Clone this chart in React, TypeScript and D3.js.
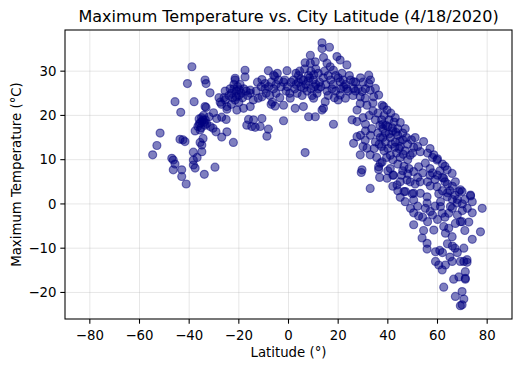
import React from "react";
import * as d3 from "d3";

const TITLE = "Maximum Temperature vs. City Latitude (4/18/2020)";
const X_LABEL = "Latitude (°)";
const Y_LABEL = "Maximum Temperature (°C)";
const X_TICKS = [-80, -60, -40, -20, 0, 20, 40, 60, 80];
const Y_TICKS = [-20, -10, 0, 10, 20, 30];
const X_DOMAIN = [-90, 90];
const Y_DOMAIN = [-26, 39.3];

// [latitude, max temperature]
const southMid: [number, number][] = [
  [-54.7, 11.1], [-53, 13.2], [-51.7, 16.0], [-46.4, 9.9], [-45.7, 9.0], [-46.4, 7.7],
  [-45.7, 23.1], [-43.4, 20.7], [-43.7, 14.6], [-41.7, 14.1], [-43, 7.7], [-43, 6.2],
  [-41.2, 4.5], [-40.7, 27.2], [-38.9, 31.0], [-38, 23.1], [-37.6, 16.5], [-38.3, 11.7],
  [-38.3, 9.9], [-38.3, 8.8], [-37.6, 8.1], [-35.6, 13.9], [-34.9, 11.8], [-33.9, 6.7],
  [-35.6, 16.7], [-33.6, 17.8], [-34.9, 18.6], [-33.6, 22], [-33.6, 28], [-33.2, 27.2],
  [-31.6, 25.1], [-33.2, 21.8], [-30.2, 20.6], [-34.4, 19], [-35.6, 18.3], [-34.4, 14.8],
  [-34.9, 13.3], [-29.6, 8.3], [-30.4, 17.1], [-29.2, 16.3], [-28.9, 19.3], [-26.9, 19.6],
  [-25.1, 19.1], [-24.8, 16.3], [-26.9, 15.1], [-22.2, 13.9], [-36, 18], [-35, 19.5],
  [-34, 18.5], [-36.5, 17.5], [-33.5, 19], [-35.2, 17.2], [-34.2, 20], [-36, 19.2],
  [-33, 18.2], [-32, 19.7], [-42.5, 14.5], [-47, 10.3], [-36.8, 10.5], [-31.5, 17.5],
];

const southTropics: [number, number][] = [
  [-25.5, 23.5], [-24.8, 22], [-24.8, 21.4], [-21.5, 28.4], [-21.5, 28], [-17.5, 30.2],
  [-17.5, 28.7], [-20.8, 21.2], [-18.1, 21.6], [-15.4, 22], [-14.2, 23.5], [-12.2, 23.9],
  [-10.7, 24.2], [-15.4, 25], [-15.4, 25.7], [-16.1, 19.1], [-14.1, 19], [-10.7, 19.3],
  [-16.8, 17.8], [-14.8, 17.5], [-13.4, 17.3], [-11.4, 17.5], [-8.1, 16.9], [-8.7, 15.3],
  [-2, 18.8], [-23, 25], [-22, 26], [-21, 25.5], [-20, 24.5], [-19, 25], [-22.5, 24],
  [-20.5, 26.5], [-18.5, 24], [-23.5, 26], [-21.5, 23.5], [-19.5, 27], [-17, 25.5],
  [-24, 24.5], [-22, 27], [-20, 23], [-18, 26], [-16.5, 24.5], [-25.5, 25.5], [-26, 24],
  [-27, 22.5], [-27.5, 23], [-28, 24], [-19.8, 25.8], [-21, 24.2], [-23, 22.5],
];

const equatorial: [number, number][] = [
  [-8.1, 30.1], [-6, 29.1], [-5.5, 28.8], [-0.6, 30.1], [-10.7, 28.1], [-9.4, 27.2],
  [-8, 26.5], [-7, 27.5], [-6, 26], [-5, 27], [-4, 28], [-3, 26.5], [-2, 27.5],
  [-1, 25.5], [-9, 25], [-7.5, 24.5], [-5, 25], [-3.5, 24], [-1.5, 28], [-0.5, 26.5],
  [-4.5, 29.5], [-6.5, 23], [-5.4, 22.1], [-2, 22.3], [-9.5, 26], [-11, 26.5],
  [-12.5, 27.5], [-13, 25.5], [0.7, 23.9], [-7, 22.5], [2, 28], [3, 27], [4, 29],
  [5, 26.5], [6, 28], [7, 27], [8, 29], [9, 26], [10, 28], [11, 27], [12, 29.5],
  [13, 26.5], [3.5, 25], [5.5, 24.5], [7.5, 25.5], [9.5, 24.5], [11.5, 25], [4.5, 30],
  [6.5, 30.5], [9, 30], [11, 30.5], [1, 27.5], [0.5, 25], [2.5, 26], [8, 27.8],
  [10.5, 26.5], [12.5, 27.5], [14, 28.5], [15, 27], [16, 29], [15.5, 25.5], [17, 28],
  [14.5, 30], [13.5, 36.4], [13.5, 35.1], [16.5, 35.4], [8.8, 33.6], [14.1, 33.1],
  [6.7, 31.9], [8.8, 31.8], [10.8, 32.1], [15.5, 31.8], [16.8, 31], [14.8, 23.1],
  [14.1, 21.6], [13.5, 21.2], [10.1, 23.9], [6, 22], [2.7, 21.6], [8.1, 19.7],
  [10.8, 19.7], [6.7, 11.6], [4, 27.5], [6.2, 26.2], [8.5, 28.5], [10.2, 29.2],
  [12, 26], [3, 29.5], [5, 28.2],
];

const northSubtropics: [number, number][] = [
  [19.5, 33.3], [20.8, 32.5], [23.5, 31.4], [18.1, 30.2], [32.3, 29.1], [32.3, 27.2],
  [32.9, 25.7], [35, 26.1], [26.2, 27.6], [26.2, 26.1], [29.6, 25.4], [28.9, 24.2],
  [30.9, 23.9], [20.8, 27.6], [22.2, 26.5], [20.8, 24.6], [22.9, 23.9], [18.1, 18],
  [25.6, 19], [27.6, 18.6], [27.6, 21.2], [28.9, 22.7], [31.6, 22.3], [34.3, 24.2],
  [36.3, 24.6], [37.7, 22.3], [18, 27], [19, 25.5], [20, 28.5], [21, 26], [22, 28],
  [23, 27], [24, 25.5], [25, 28], [19, 29], [21.5, 29.5], [23.5, 26], [24.5, 29],
  [18.5, 24], [17.5, 26], [20, 23.5], [16, 24.5], [26, 24.5], [27, 27.5], [28, 26],
  [30, 27.5], [31, 26], [29, 28.5], [33, 28], [27, 25.5], [27.6, 15.2], [26.2, 13.7],
  [28.9, 11.1], [32.9, 11.1], [31.6, 12.6], [30.9, 14.4], [35, 14], [36, 16], [37, 15],
  [38, 17], [36.5, 13.5], [29.6, 7.7], [36.3, 8.4], [37.7, 9.5], [29.3, 7.1],
  [32.9, 3.5], [36.3, 7.8], [36.7, 6.0], [37, 9.2], [30, 19.5], [31, 18], [32.5, 20],
  [33.5, 17], [34, 21], [35, 19], [36, 20.5], [33, 15.5], [34.5, 12.5], [35.5, 10.5],
  [31, 16.5], [29, 15.5], [30, 13], [37.5, 19], [38.5, 20], [34, 22.8],
];

const northMid: [number, number][] = [
  [38.3, 22], [39.7, 21.2], [45, 18.4], [54.4, 14.1], [50.4, 12.8], [53.1, 11.8],
  [58.5, 11.1], [59.8, 9.9], [55.1, 9.2], [52.4, 8.4], [50.4, 7.3], [38, 18], [39, 16],
  [40, 17.5], [41, 15], [42, 16.5], [43, 14], [44, 15.5], [45, 13], [46, 14.5], [47, 12],
  [48, 13.5], [49, 11], [40, 12.5], [41.5, 13.5], [43.5, 11.5], [42, 10], [39, 14],
  [38.5, 12], [40.5, 19], [42.5, 18.5], [44, 17], [46, 16], [47.5, 15], [49.5, 14.5],
  [51, 15], [52, 13], [45, 10.5], [48, 10], [46.5, 8.5], [44, 9], [41, 8], [43, 19.5],
  [39.5, 10.5], [37.5, 13], [47, 17], [50, 11.5], [38, 15], [41, 11], [44.5, 12.5],
  [48.5, 8], [45.5, 6.5], [42, 6.5], [40, 7.5], [57, 12.5], [58, 10.5], [60, 10.2],
  [62, 9], [63, 8.5], [56, 11.5], [40.5, 15.8], [42.8, 12.8], [44.8, 14.2], [46.2, 11.2],
  [39.2, 17.8], [41.8, 17.2], [43.2, 16.2], [41.2, 20.5], [36.8, 17.8],
];

const northHigh: [number, number][] = [
  [63.9, 7.7], [65.9, 6.9], [67.2, 5.0], [69.2, 3.2], [73.3, 2.0], [62.5, 5.8],
  [59.8, 3.9], [57.1, 4.1], [47.7, 5.4], [47.1, 2.8], [50.4, 2.4], [43.7, 4.3],
  [42.3, 6.5], [39.7, 5.8], [55.8, 1.6], [53.1, 2.4], [46.5, 2.8], [49.8, 2.3],
  [60.5, 2.3], [63.9, 1.6], [68.6, 2.8], [73.3, 1.8], [50.4, 0.9], [55.8, 0.2],
  [61.2, 0.5], [65.2, -0.6], [67.9, 0.2], [61.2, -0.6], [49.1, -1], [50.4, -2],
  [52.4, -2.7], [55.1, -1], [57.1, -1.7], [61.9, -2.1], [64.5, -2.1], [50.4, -4.7],
  [54.4, -6.0], [58.5, -5.9], [62.5, -5.1], [64.5, -5.5], [63.2, -6.6], [65.9, -7.4],
  [67.2, -4.4], [69.2, -4.0], [72.6, -4.1], [53.8, -7.7], [55.8, -8.9], [55.8, -10.2],
  [59.2, -10.8], [60.9, -10.5], [70.6, -10.0], [59.2, -13.0], [60.5, -13.8],
  [61.9, -14.9], [63.2, -13.8], [65.9, -13.0], [69.2, -13.0], [71.9, -12.6],
  [71.9, -13.2], [71.2, -15.3], [68.6, -16.5], [66.5, -17.0], [71.2, -17.0],
  [62.5, -18.8], [69.9, -19.8], [67.2, -20.9], [70.6, -21.5], [69.2, -23.0],
  [69.9, 2.8], [78, -1.0], [69.9, -4], [77.3, -6.3], [70.6, -13.0], [71.2, -16.8],
  [69.9, -22.8], [57, 8], [58, 7], [60, 6.5], [61, 7.5], [62, 6], [63, 5], [64, 4.5],
  [65, 3], [66, 4], [67, 2], [68, 1], [70, 0], [71, 1], [72, -1], [74, 0.5], [62, 3],
  [64, 2.5], [66, 1], [59, 5.5], [57, 6.5], [56, 5], [53, 5], [54, 7], [52, 6],
  [51, 4.5], [49, 5], [48, 6.8], [46, 7.5], [45, 5], [44, 3], [42, 4], [47, 0.5],
  [45, 1.5], [52, -0.5], [54, -3], [56, -4], [58, -2.5], [60, -3.5], [66, -1],
  [68, -2.5], [70, -1.5], [74, -2], [71, -6], [74, -8], [64, -9], [67, -10], [62, -11],
  [65, -12], [68, -11], [66, -9.5], [63, -3], [59, -0.5],
];

const seriesGroups = [southMid, southTropics, equatorial, northSubtropics, northMid, northHigh];

const W = 521;
const H = 370;
const M = { left: 65, right: 512, top: 30, bottom: 319 };
const FONT = "'DejaVu Sans', sans-serif";

const fmt = (v: number) => (v < 0 ? "\u2212" + Math.abs(v) : String(v));

export default function App() {
  const x = d3.scaleLinear().domain(X_DOMAIN).range([M.left, M.right]);
  const y = d3.scaleLinear().domain(Y_DOMAIN).range([M.bottom, M.top]);
  const points = seriesGroups.flat();
  const tickLen = 4.7;

  return (
    <svg
      width={W}
      height={H}
      style={{ position: "absolute", left: 0, top: 0, background: "#fff" }}
      fontFamily={FONT}
    >
      <rect x={0} y={0} width={W} height={H} fill="#fff" />
      {/* grid */}
      <g stroke="#b0b0b0" strokeOpacity={0.3} strokeWidth={1}>
        {X_TICKS.map((t) => (
          <line key={"gx" + t} x1={x(t)} x2={x(t)} y1={M.top} y2={M.bottom} />
        ))}
        {Y_TICKS.map((t) => (
          <line key={"gy" + t} x1={M.left} x2={M.right} y1={y(t)} y2={y(t)} />
        ))}
      </g>
      {/* points */}
      <g>
        {points.map((p, i) => (
          <circle
            key={i}
            cx={x(p[0])}
            cy={y(p[1])}
            r={4}
            fill="#000080"
            fillOpacity={0.5}
            stroke="#000080"
            strokeOpacity={0.5}
            strokeWidth={1.2}
          />
        ))}
      </g>
      {/* spines */}
      <rect
        x={M.left}
        y={M.top}
        width={M.right - M.left}
        height={M.bottom - M.top}
        fill="none"
        stroke="#000"
        strokeWidth={1.07}
      />
      {/* x ticks */}
      <g>
        {X_TICKS.map((t) => (
          <g key={"xt" + t}>
            <line x1={x(t)} x2={x(t)} y1={M.bottom} y2={M.bottom + tickLen} stroke="#000" strokeWidth={1.07} />
            <text x={x(t)} y={M.bottom + 20.5} fontSize={13.3} textAnchor="middle" fill="#000">
              {fmt(t)}
            </text>
          </g>
        ))}
      </g>
      {/* y ticks */}
      <g>
        {Y_TICKS.map((t) => (
          <g key={"yt" + t}>
            <line x1={M.left - tickLen} x2={M.left} y1={y(t)} y2={y(t)} stroke="#000" strokeWidth={1.07} />
            <text x={M.left - 8.5} y={y(t)} dy="0.36em" fontSize={13.3} textAnchor="end" fill="#000">
              {fmt(t)}
            </text>
          </g>
        ))}
      </g>
      <text x={(M.left + M.right) / 2} y={357} fontSize={13.3} textAnchor="middle" fill="#000">
        {X_LABEL}
      </text>
      <text
        transform={`translate(21, ${(M.top + M.bottom) / 2}) rotate(-90)`}
        fontSize={13.3}
        textAnchor="middle"
        fill="#000"
      >
        {Y_LABEL}
      </text>
      <text x={(M.left + M.right) / 2} y={22} fontSize={16} textAnchor="middle" fill="#000">
        {TITLE}
      </text>
    </svg>
  );
}
